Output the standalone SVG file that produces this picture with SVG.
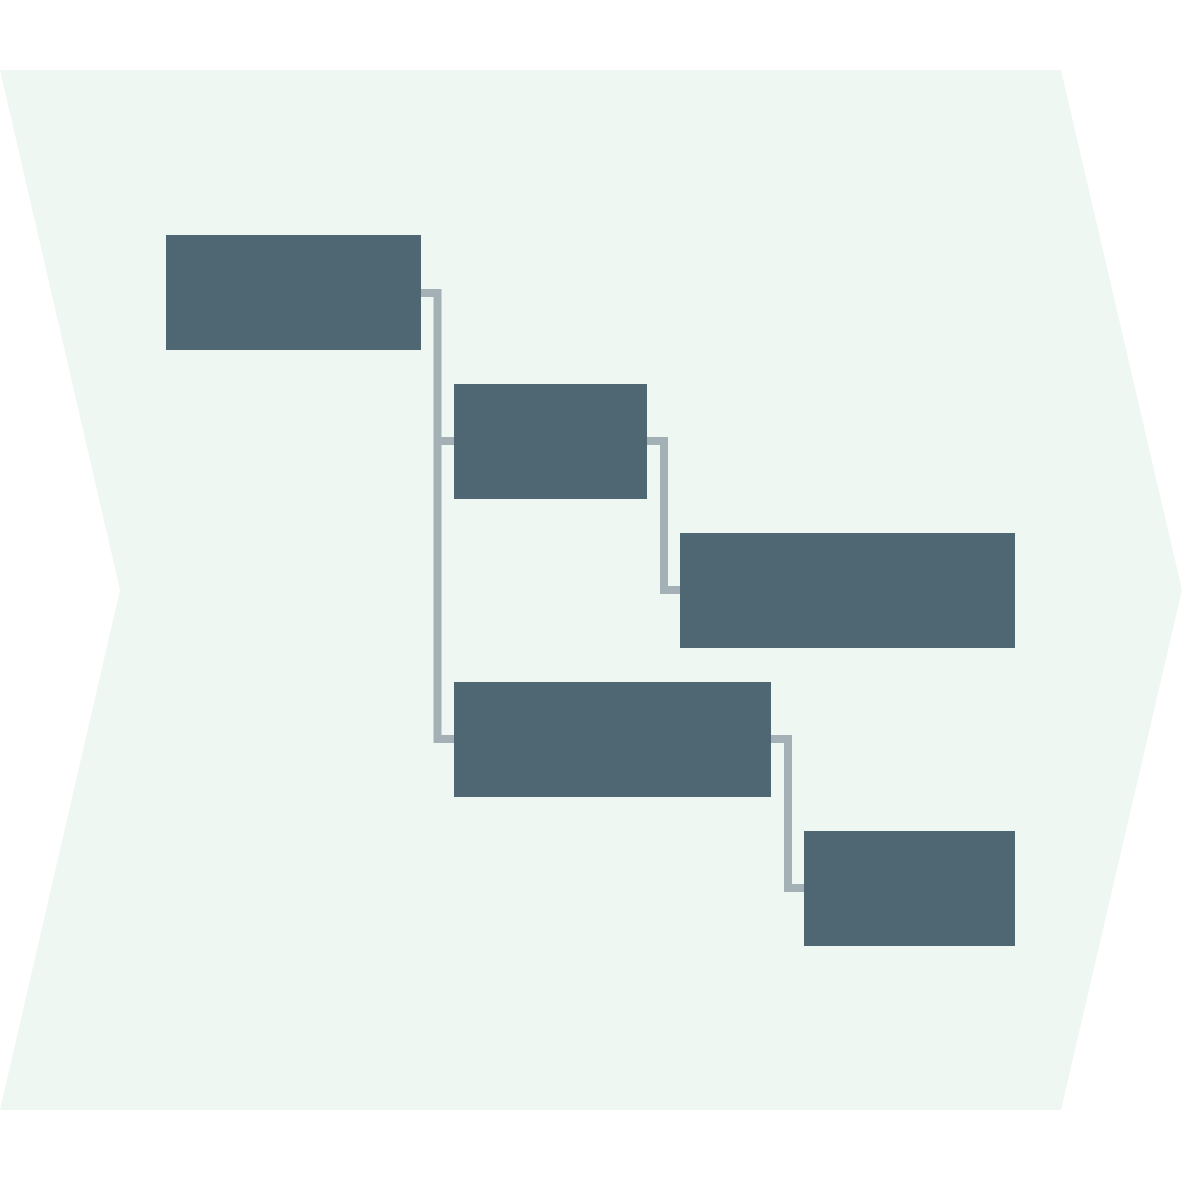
<svg xmlns="http://www.w3.org/2000/svg" width="1182" height="1182" viewBox="0 0 1182 1182">
<style>
.node{fill:#4f6772}
.conn{fill:none;stroke:#a3b1b6;stroke-width:8;stroke-linejoin:miter}
</style>
<rect width="1182" height="1182" fill="#ffffff"/>
<polygon points="0,70 1061,70 1182,590 1061,1110 0,1110 120,590" fill="#eef7f2"/>
<g id="connectors">
<polyline class="conn" points="421,293 437.5,293 437.5,739 454,739"/>
<polyline class="conn" points="437.5,441 454,441"/>
<polyline class="conn" points="647,441 664,441 664,590 680,590"/>
<polyline class="conn" points="771,739 788,739 788,888 804,888"/>
</g>
<g id="node1"><rect class="node" x="166" y="235" width="255" height="115"/></g>
<g id="node2"><rect class="node" x="454" y="384" width="193" height="115"/></g>
<g id="node3"><rect class="node" x="680" y="533" width="335" height="115"/></g>
<g id="node4"><rect class="node" x="454" y="682" width="317" height="115"/></g>
<g id="node5"><rect class="node" x="804" y="831" width="211" height="115"/></g>
</svg>
